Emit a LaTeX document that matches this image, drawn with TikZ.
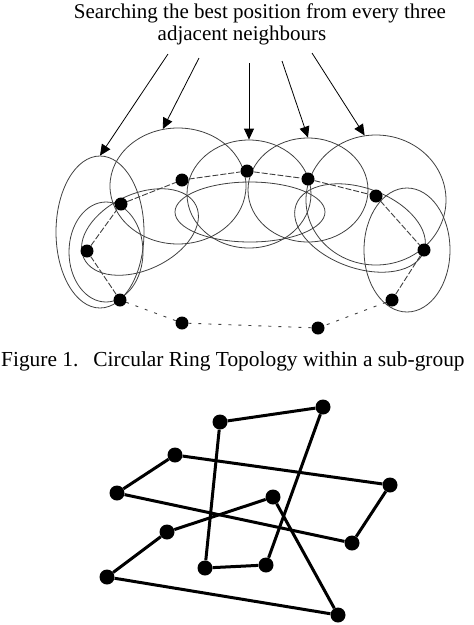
\documentclass[tikz,border=0pt]{standalone}
\usepackage{fontspec}
\setmainfont{Liberation Serif}
\usetikzlibrary{shapes.geometric,arrows.meta}
\newcommand{\peer}[2]{%
 \node[peer] ({#1}) at ({#2}) {};%
}
\newcommand{\hood}[5]{%
 \node[hood, minimum width={#3}, minimum height={#4}, rotate={#5}] ({#1}) at ({#2}) {};%
}
\newcommand{\blob}[2]{%
 \node[blob] ({#1}) at ({#2}) {};%
}

\begin{document}
\begin{tikzpicture}[x=1pt,y=-1pt,
  peer/.style={circle,fill=black,inner sep=0pt,minimum size=13pt},
  hood/.style={ellipse,draw=black!75,line width=0.8pt,inner sep=0pt},
  link/.style={draw=black!75,line width=0.9pt,dash pattern=on 6pt off 2pt},
  gap/.style={draw=black!75,line width=0.9pt,dash pattern=on 3pt off 7pt},
  blob/.style={circle,fill=black,inner sep=0pt,minimum size=15pt},
  mesh/.style={line width=3pt},
  hint/.style={-{Triangle[length=11pt,width=10pt]},line width=0.8pt}]
   \useasboundingbox (0,0) rectangle (474,625);
   % header
   \node (head) at (260,13) {\fontsize{21}{24}\selectfont Searching the best position from every three};
   \node (head2) at (242,35) {\fontsize{21}{24}\selectfont adjacent neighbours};
   % neighbourhoods
   \hood{e1}{100,232}{88pt}{152pt}{0}
   \hood{e2}{178,186}{136pt}{116pt}{0}
   \hood{e3}{249,194}{124pt}{108pt}{0}
   \hood{e4}{308,190}{120pt}{104pt}{0}
   \hood{e5}{376,200}{140pt}{130pt}{0}
   \hood{e6}{407,250}{86pt}{124pt}{0}
   \hood{e7}{106,252}{74pt}{100pt}{0}
   \hood{e8}{140,232}{124pt}{76pt}{25}
   \hood{e9}{360,228}{136pt}{80pt}{-20}
   \hood{e10}{250,212}{150pt}{60pt}{0}
   % ring
   \peer{n1}{182,180}
   \peer{n2}{247,171}
   \peer{n3}{308,179}
   \peer{n4}{376,196}
   \peer{n5}{424,250}
   \peer{n6}{392,300}
   \peer{n7}{318,328}
   \peer{n8}{182,323}
   \peer{n9}{120,300}
   \peer{n10}{87,251}
   \peer{n11}{121,204}
   \draw[link] (n1) -- (n2) -- (n3) -- (n4) -- (n5) -- (n6);
   \draw[link] (n9) -- (n10) -- (n11) -- (n1);
   \draw[gap] (n6) -- (n7) -- (n8) -- (n9);
   % pointers
   \coordinate (s1) at (168,54);
   \coordinate (s2) at (199,58);
   \coordinate (s3) at (249,63);
   \coordinate (s4) at (282,61);
   \coordinate (s5) at (312,53);
   \draw[hint] (s1) -- (e1.north);
   \draw[hint] (s2) -- (e2.105);
   \draw[hint] (s3) -- (e3.north);
   \draw[hint] (s4) -- (e4.north);
   \draw[hint] (s5) -- (e5.100);
   % caption
   \node[anchor=west,inner sep=0pt] (cap) at (1,361) {\fontsize{21.4}{24}\selectfont Figure 1.\hspace{15pt}Circular Ring Topology within a sub-group};
   % second topology
   \blob{b1}{220,422}
   \blob{b2}{323,407}
   \blob{b3}{175,455}
   \blob{b4}{117,493}
   \blob{b5}{390,485}
   \blob{b6}{273,497}
   \blob{b7}{167,532}
   \blob{b8}{352,543}
   \blob{b9}{205,568}
   \blob{b10}{266,565}
   \blob{b11}{107,577}
   \blob{b12}{338,615}
   \draw[mesh] (b1) -- (b2) -- (b10) -- (b9) -- (b1);
   \draw[mesh] (b3) -- (b5) -- (b8) -- (b4) -- (b3);
   \draw[mesh] (b6) -- (b7) -- (b11) -- (b12) -- (b6);
\end{tikzpicture}
\end{document}
